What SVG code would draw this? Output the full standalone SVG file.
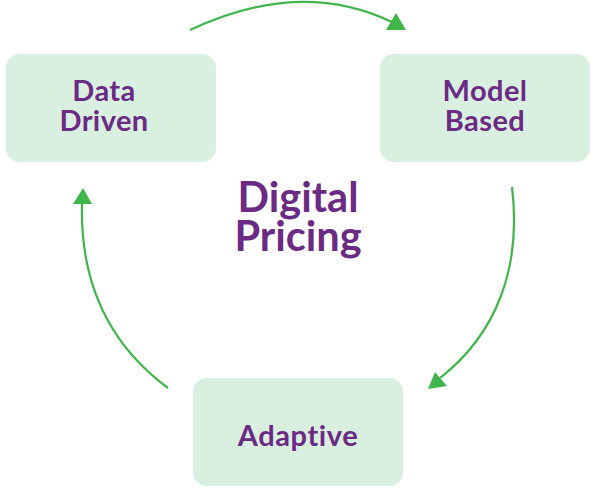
<svg xmlns="http://www.w3.org/2000/svg" width="596" height="494" viewBox="0 0 596 494">
<style>
.box{fill:#d9efdf}
.lbl{font-family:Lato,"Liberation Sans",sans-serif;font-weight:bold;fill:#6b2a83;text-anchor:middle}
.conn{fill:none;stroke:#3fb54b;stroke-width:2.2}
.head{fill:#3fb54b}
</style>
<rect width="596" height="494" fill="#ffffff"/>
<g id="connectors">
<path class="conn" d="M190,30 Q300,-22 392,22"/>
<polygon class="head" points="386,30 406,30 396,13"/>
<path class="conn" d="M512,187 C522,270 495,335 440,378"/>
<polygon class="head" points="428,389 435,372 447,386"/>
<path class="conn" d="M168,388 C110,345 80,285 82,204"/>
<polygon class="head" points="73,204 83,188 92,204"/>
</g>
<g id="data-driven">
<rect class="box" x="6" y="54" width="210" height="108" rx="14"/>
<text class="lbl" x="104" y="101" font-size="29" letter-spacing="0.4">Data</text>
<text class="lbl" x="104" y="131" font-size="29" letter-spacing="0.4">Driven</text>
</g>
<g id="model-based">
<rect class="box" x="380" y="54" width="210" height="108" rx="14"/>
<text class="lbl" x="485" y="101" font-size="29" letter-spacing="0.4">Model</text>
<text class="lbl" x="485" y="131" font-size="29" letter-spacing="0.4">Based</text>
</g>
<g id="adaptive">
<rect class="box" x="193" y="378" width="210" height="108" rx="14"/>
<text class="lbl" x="298" y="446" font-size="29" letter-spacing="0.6">Adaptive</text>
</g>
<g id="digital-pricing">
<text class="lbl" x="298" y="212" font-size="41.5">Digital</text>
<text class="lbl" x="298" y="251" font-size="41.5">Pricing</text>
</g>
</svg>
